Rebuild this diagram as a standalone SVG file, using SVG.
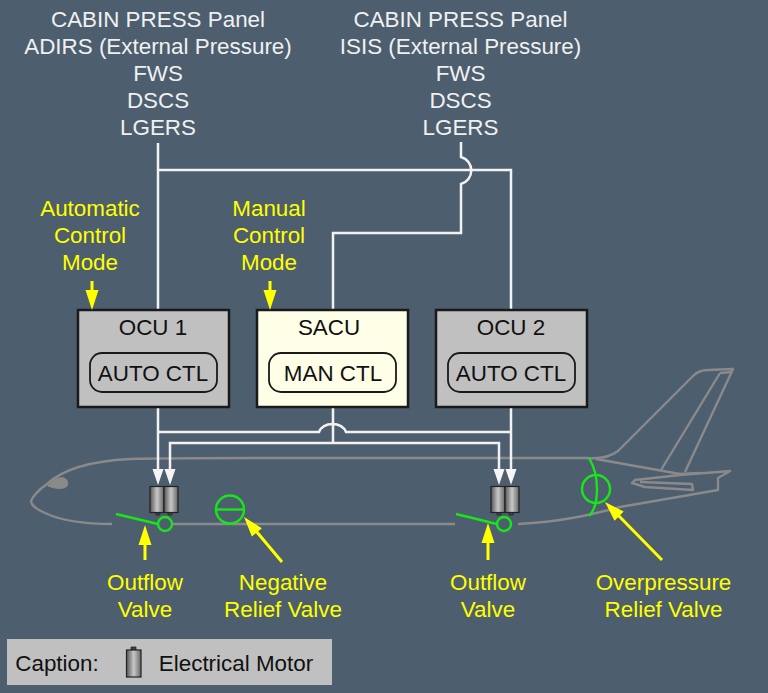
<svg xmlns="http://www.w3.org/2000/svg" width="768" height="693" viewBox="0 0 768 693">
<style>
text{font-family:"Liberation Sans",Arial,sans-serif;font-size:22.4px;text-anchor:middle}
.w{fill:#f0f0f0}.y{fill:#ffff00}.k{fill:#111}
.box{stroke:#1a1a1a;stroke-width:2.5}
.inner{fill:none;stroke:#1a1a1a;stroke-width:1.8}
.wire{fill:none;stroke:#f2f2f2;stroke-width:2.5}
.plane{fill:none;stroke:#8a8a8a;stroke-width:2.4;stroke-linejoin:round}
.green{fill:none;stroke:#19e619;stroke-width:2.4}
.yl{stroke:#ffff00;stroke-width:3;fill:none}
.motor{fill:url(#mg);stroke:#222;stroke-width:1.2}
.nub{fill:#444;stroke:#222;stroke-width:.8}
</style>
<defs>
<linearGradient id="mg"><stop offset="0" stop-color="#555"/><stop offset=".5" stop-color="#c8c8c8"/><stop offset="1" stop-color="#666"/></linearGradient>
<g id="wa"><path d="M0 0L-5.500 -16H5.500Z" fill="#f5f5f5"/></g>
<g id="ya"><path d="M0 0L-6.500 -20H6.500Z" fill="#ffff00"/></g>
<g id="motor2"><path class="nub" d="M156 512h4v3h-4zM168 512h4v3h-4z"/><rect class="motor" x="150" y="486.500" width="14" height="26"/><rect class="motor" x="164" y="486.500" width="14" height="26"/></g>
</defs>
<rect width="768" height="693" fill="#4d5e6f"/>

<g id="aircraft" class="plane">
<path d="M112 524C85 524 62 521 45 513C36 509 31 505 31 501C33 496 40 489 47 484C62 470 90 461 130 459C170 458 200 458 300 458L588 458C600 459 610 457 618 451L693 376C697 372 701 370 708 370L733 369L685 472"/>
<path d="M172 524L455 524"/>
<path d="M518 524C560 522 590 515 620 507L718 490V478L730 471L680 475L635 480L632 483L645 487L693 490L692 484L640 482"/>
<path d="M596 459L680 474L700 473"/>
<path d="M720 373L661 470M720 373L732 372"/>
<path d="M48 486C52 479 60 477 64 478C69 480 69 487 64 488C58 489 53 488 48 486Z" fill="#8a8a8a" stroke-width="1"/>
</g>

<g id="connectors">
<path class="wire" d="M158 143V310M158 170H511V310"/>
<path class="wire" d="M461 142V157A14 14 0 0 1 461 184V233H333V310"/>
<path class="wire" d="M158 407V470M158 432H319A14 11 0 0 1 346 432H511M511 407V470"/>
<path class="wire" d="M333 407V443M170 470V443H499V470"/>
<use href="#wa" x="158" y="485"/><use href="#wa" x="170" y="485"/>
<use href="#wa" x="499" y="485"/><use href="#wa" x="511" y="485"/>
</g>

<g id="motors-left"><use href="#motor2"/></g>
<g id="motors-right"><use href="#motor2" x="341"/></g>

<g id="valve-left" class="green"><path d="M116 514L158 524"/><circle cx="165" cy="524" r="7"/></g>
<g id="valve-right" class="green"><path d="M456 514L497 524"/><circle cx="504" cy="524" r="7"/></g>
<g id="negative-relief" class="green"><circle cx="230" cy="509.500" r="14"/><path d="M216 509.500H244"/></g>
<g id="overpressure-relief" class="green"><circle cx="596" cy="489" r="14"/><path d="M589 458C595 468 597 478 597 489C597 500 595 510 589 516"/></g>

<g id="ocu1"><rect class="box" x="78" y="310" width="151" height="97" fill="#c0c0c0"/><rect class="inner" x="90" y="353" width="127" height="39" rx="12"/><text class="k" x="153" y="334.500">OCU 1</text><text class="k" x="153" y="380.500">AUTO CTL</text></g>
<g id="sacu"><rect class="box" x="257" y="310" width="151" height="97" fill="#ffffe8"/><rect class="inner" x="269" y="353" width="127" height="39" rx="12"/><text class="k" x="329" y="334.500">SACU</text><text class="k" x="333" y="380.500">MAN CTL</text></g>
<g id="ocu2"><rect class="box" x="436" y="310" width="151" height="97" fill="#c0c0c0"/><rect class="inner" x="448" y="353" width="127" height="39" rx="12"/><text class="k" x="511" y="334.500">OCU 2</text><text class="k" x="511" y="380.500">AUTO CTL</text></g>

<g id="yellow-arrows">
<path class="yl" d="M92 281V295M270 281V295M145 560V540M488 560V540M282 562L256 531M662 560L617 514"/>
<use href="#ya" x="92" y="310"/><use href="#ya" x="270" y="310"/>
<use href="#ya" transform="translate(145 525) rotate(180)"/><use href="#ya" transform="translate(488 523) rotate(180)"/>
<use href="#ya" transform="translate(244 517) rotate(140)"/>
<use href="#ya" transform="translate(605 502) rotate(135)"/>
</g>

<g id="labels-top-left" class="w"><text x="158" y="26.500">CABIN PRESS Panel</text><text x="158" y="53.500">ADIRS (External Pressure)</text><text x="158" y="80.500">FWS</text><text x="158" y="107.500">DSCS</text><text x="158" y="134.500">LGERS</text></g>
<g id="labels-top-right" class="w"><text x="460.500" y="26.500">CABIN PRESS Panel</text><text x="460.500" y="53.500">ISIS (External Pressure)</text><text x="460.500" y="80.500">FWS</text><text x="460.500" y="107.500">DSCS</text><text x="460.500" y="134.500">LGERS</text></g>
<g id="labels-yellow" class="y">
<text x="90" y="215.500">Automatic</text><text x="90" y="242.500">Control</text><text x="90" y="269.500">Mode</text>
<text x="269" y="215.500">Manual</text><text x="269" y="242.500">Control</text><text x="269" y="269.500">Mode</text>
<text x="145" y="589.500">Outflow</text><text x="145" y="616.500">Valve</text>
<text x="283" y="589.500">Negative</text><text x="283" y="616.500">Relief Valve</text>
<text x="488" y="589.500">Outflow</text><text x="488" y="616.500">Valve</text>
<text x="663.500" y="589.500">Overpressure</text><text x="663.500" y="616.500">Relief Valve</text>
</g>

<g id="caption">
<rect x="7" y="639" width="325" height="46" fill="#c0c0c0"/>
<text class="k" x="57" y="671">Caption:</text>
<path class="nub" d="M131 647h5v3h-5z" fill="#999"/>
<rect class="motor" x="126.500" y="650" width="14.500" height="27"/>
<text class="k" x="236" y="671">Electrical Motor</text>
</g>
</svg>
